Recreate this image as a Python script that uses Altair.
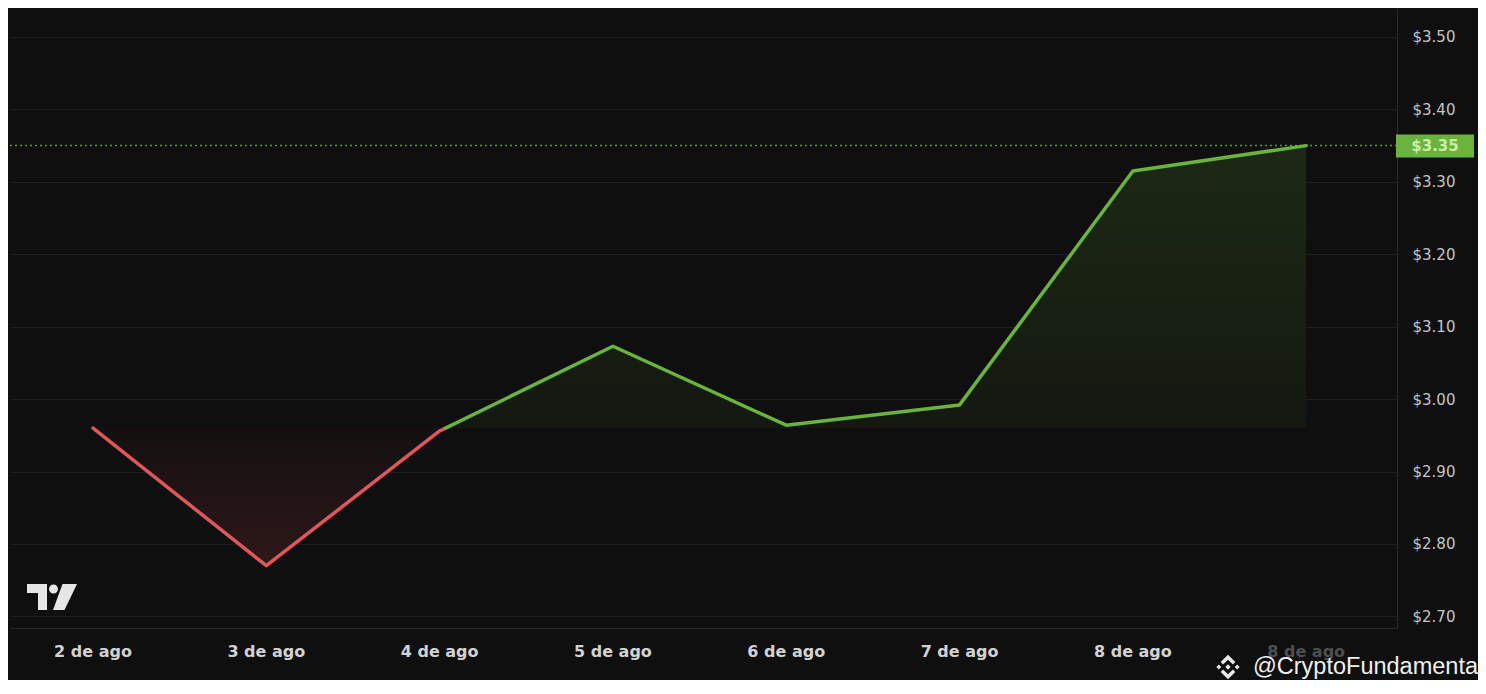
import altair as alt
import pandas as pd

# ---- data ----
day_index = [0, 1, 2, 3, 4, 5, 6, 7]
prices = [2.96, 2.77, 2.956, 3.073, 2.964, 2.992, 3.315, 3.35]
x_labels = ["2 de ago", "3 de ago", "4 de ago", "5 de ago", "6 de ago",
            "7 de ago", "8 de ago", "8 de ago"]
label_faded = [False, False, False, False, False, False, False, True]
y_ticks = [2.70, 2.80, 2.90, 3.00, 3.10, 3.20, 3.30, 3.40, 3.50]
watermark = "@CryptoFundamenta"

RED = "#e0575b"
GREEN = "#6ab33c"
BG = "#0f0f0f"

base = prices[0]

# split the series into runs above / below the opening price
pts = [(day_index[0], prices[0])]
for i in range(1, len(prices)):
    p0, p1 = prices[i - 1], prices[i]
    if (p0 - base) * (p1 - base) < 0:
        t = (base - p0) / (p1 - p0)
        pts.append((day_index[i - 1] + t, base))
    pts.append((day_index[i], p1))

rows = []
run = 0
prev_side = None
for j in range(1, len(pts)):
    (xa, ya), (xb, yb) = pts[j - 1], pts[j]
    side = "down" if (ya + yb) / 2 < base else "up"
    if side != prev_side:
        run += 1
        rows.append({"x": xa, "price": ya, "side": side, "run": run, "base": base, "o": len(rows)})
        prev_side = side
    rows.append({"x": xb, "price": yb, "side": side, "run": run, "base": base, "o": len(rows)})
seg = pd.DataFrame(rows)
seg_red = seg[seg["side"] == "down"]
seg_green = seg[seg["side"] == "up"]

labels_df = pd.DataFrame({"x": day_index, "label": x_labels,
                          "col": ["#4e4e4e" if f else "#d2d2d2" for f in label_faded]})
last_df = pd.DataFrame({"price": [prices[-1]], "txt": [f"${prices[-1]:.2f}"]})

xs = alt.Scale(domain=[-0.479, 7.524], nice=False, zero=False)
ys = alt.Scale(domain=[2.684, 3.54], nice=False, zero=False)

X = alt.X("x:Q", scale=xs, axis=alt.Axis(labels=False, ticks=False, grid=False,
                                         domainColor="#2a2a2a", title=None))
Y = alt.Y("price:Q", scale=ys,
          axis=alt.Axis(orient="right", values=y_ticks, format="$.2f", title=None,
                        labelFont="DejaVu Sans", labelFontSize=15, labelFontWeight="normal",
                        labelColor="#c4c4c4", labelPadding=15, ticks=False,
                        domainColor="#2a2a2a", gridColor="#1f1f1f", gridWidth=1))

red_grad = alt.LinearGradient(gradient="linear", x1=0, x2=0, y1=0, y2=1,
                              stops=[alt.GradientStop(color="#141010", offset=0),
                                     alt.GradientStop(color="#2e1719", offset=1)])
green_grad = alt.LinearGradient(gradient="linear", x1=0, x2=0, y1=0, y2=1,
                                stops=[alt.GradientStop(color="#1c2914", offset=0),
                                       alt.GradientStop(color="#141811", offset=1)])

area_red = alt.Chart(seg_red).mark_area(color=red_grad, opacity=1, line=False).encode(
    x=X, y=Y, y2="base:Q", detail="run:N")
area_green = alt.Chart(seg_green).mark_area(color=green_grad, opacity=1, line=False).encode(
    x=X, y=Y, y2="base:Q", detail="run:N")

dotted = alt.Chart(last_df).mark_rule(color=GREEN, strokeDash=[2, 3], strokeWidth=1.5, opacity=0.85).encode(
    y=alt.Y("price:Q", scale=ys))

lines = alt.Chart(seg).mark_line(strokeWidth=3.5, strokeJoin="round", strokeCap="round").encode(
    x=X, y=Y, detail="run:N", order="o:Q",
    color=alt.Color("side:N", scale=alt.Scale(domain=["down", "up"], range=[RED, GREEN]), legend=None))

xlab = alt.Chart(labels_df).mark_text(font="DejaVu Sans", fontSize=16, fontWeight="bold",
                                      baseline="middle").encode(
    x=alt.X("x:Q", scale=xs), y=alt.value(644), text="label:N",
    color=alt.Color("col:N", scale=None))

price_box = alt.Chart(last_df).mark_rect(color=GREEN, yOffset=-11, y2Offset=12).encode(
    x=alt.value(1386), x2=alt.value(1464), y=alt.Y("price:Q", scale=ys), y2="price:Q")
price_txt = alt.Chart(last_df).mark_text(font="DejaVu Sans", fontSize=15, fontWeight="bold",
                                         color="#c9eea6").encode(
    x=alt.value(1425), y=alt.Y("price:Q", scale=ys), text="txt:N")

tv_path = ("M-1,-0.52H-0.2V0.52H-0.56V-0.16H-1Z "
           "M0.42,-0.52H1L0.5,0.52H0.04Z "
           "M-0.12,-0.32A0.18,0.18,0,1,0,0.24,-0.32A0.18,0.18,0,1,0,-0.12,-0.32Z")
tv_logo = alt.Chart(last_df).mark_point(shape=tv_path, filled=True, size=2500, color="#e6e6e6",
                                        opacity=1, strokeWidth=0).encode(
    x=alt.value(42), y=alt.value(589))

bn_path = ("M0,-1L0.6,-0.4L0.4,-0.2L0,-0.6L-0.4,-0.2L-0.6,-0.4Z "
           "M0,1L0.6,0.4L0.4,0.2L0,0.6L-0.4,0.2L-0.6,0.4Z "
           "M0,-0.22L0.22,0L0,0.22L-0.22,0Z "
           "M-0.75,-0.2L-0.55,0L-0.75,0.2L-0.95,0Z "
           "M0.75,-0.2L0.95,0L0.75,0.2L0.55,0Z")
bn_logo = alt.Chart(last_df).mark_point(shape=bn_path, filled=True, size=600, color="#e8e8e8",
                                        opacity=1, strokeWidth=0).encode(
    x=alt.value(1218), y=alt.value(659))
wm = alt.Chart(last_df).mark_text(text=watermark, font="Liberation Sans", fontSize=23.5,
                                  color="#f0f0f0", align="right", baseline="middle").encode(
    x=alt.value(1468), y=alt.value(659))

chart = alt.layer(area_red, area_green, dotted, lines, xlab, price_box, price_txt,
                  tv_logo, bn_logo, wm).properties(
    width=1387, height=620,
    padding={"left": 2, "top": 0, "right": 81, "bottom": 52},
    autosize=alt.AutoSizeParams(type="none"),
    background=BG,
).configure_view(stroke=None)

chart.save("out.html", embed_options={"renderer": "svg", "actions": False})
